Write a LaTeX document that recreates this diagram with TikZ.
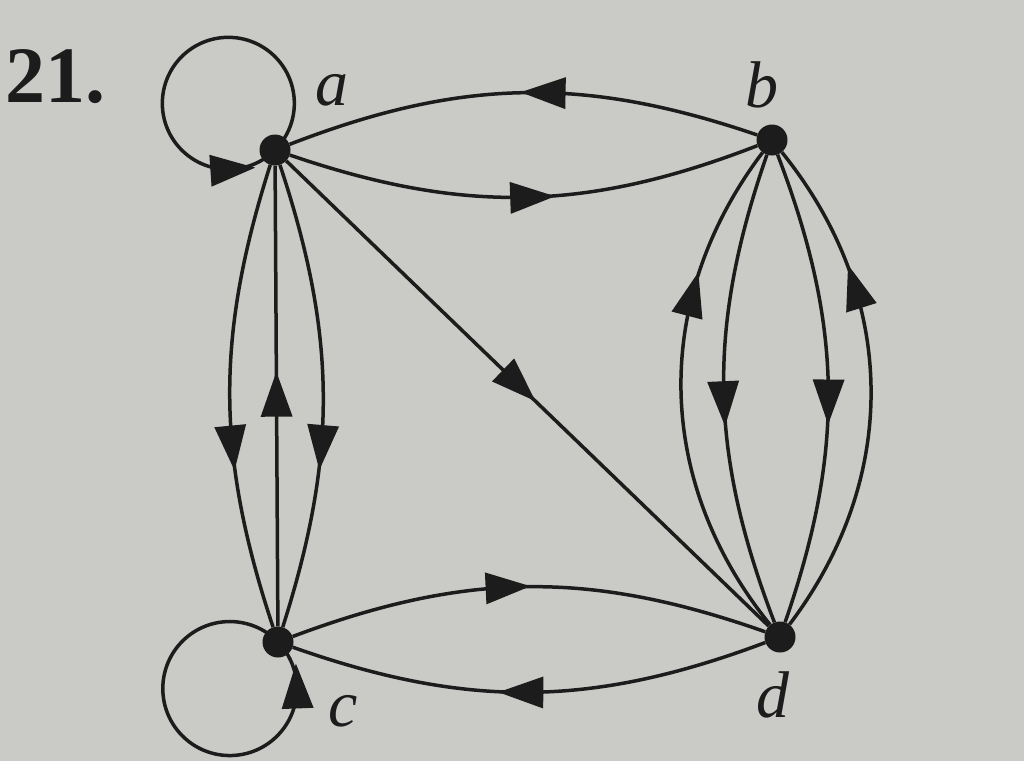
\documentclass[tikz,border=0pt]{standalone}
\usepackage{fontspec}
\setmainfont{Liberation Serif}
\usetikzlibrary{arrows.meta,decorations.markings}
\definecolor{paper}{RGB}{202,202,199}
\definecolor{ink}{RGB}{28,28,28}
\tikzset{
  vertex/.style={circle, fill=ink, inner sep=0pt, minimum size=31pt},
  vlabel/.style={anchor=base, inner sep=0pt, text=ink, font=\fontsize{66}{70}\selectfont\itshape},
  edge/.style={color=ink, line width=3.5pt},
  arr/.style={postaction={decorate},
    decoration={markings, mark=at position #1 with
      {\pgftransformxshift{22.5pt}\arrow{Triangle[length=45pt,width=31pt]}}}},
}
\begin{document}
\begin{tikzpicture}[x=1pt,y=1pt]
\fill[paper] (0,0) rectangle (1024,-761);
\useasboundingbox (0,0) rectangle (1024,-761);
% vertices
\node[vertex] (a) at (275,-150) {};
\node[vertex] (b) at (772,-140) {};
\node[vertex] (c) at (278,-642) {};
\node[vertex] (d) at (780,-637) {};
% labels
\node[anchor=base west, inner sep=0pt, text=ink, font=\fontsize{80}{84}\selectfont\bfseries] (num) at (5,-102) {21.};
\node[vlabel] (la) at (332,-105) {a};
\node[vlabel] (lb) at (762,-107) {b};
\node[vlabel] (lc) at (343,-726) {c};
\node[vlabel] (ld) at (773,-717) {d};
% loops
\draw[edge, arr=0.886] (a.center) arc[start angle=-45, delta angle=360, radius=66];
\draw[edge, arr=0.884] (c.center) arc[start angle=44, delta angle=360, radius=67];
% a--b
\draw[edge, arr=0.457] (b) to[bend right=20] (a);
\draw[edge, arr=0.517] (a) to[bend right=20] (b);
% a--d
\draw[edge, arr=0.483] (a) -- (d);
% a--c
\draw[edge, arr=0.61] (a) to[bend right=18] (c);
\draw[edge, arr=0.504] (c) -- (a);
\draw[edge, arr=0.61] (a) to[bend left=18] (c);
% b--d
\draw[edge, arr=0.69] (d) to[bend left=38] (b);
\draw[edge, arr=0.53] (b) to[bend right=20] (d);
\draw[edge, arr=0.53] (b) to[bend left=20] (d);
\draw[edge, arr=0.70] (d) to[bend right=38] (b);
% c--d
\draw[edge, arr=0.458] (c) to[bend left=20] (d);
\draw[edge, arr=0.518] (d) to[bend left=20] (c);
\end{tikzpicture}
\end{document}
